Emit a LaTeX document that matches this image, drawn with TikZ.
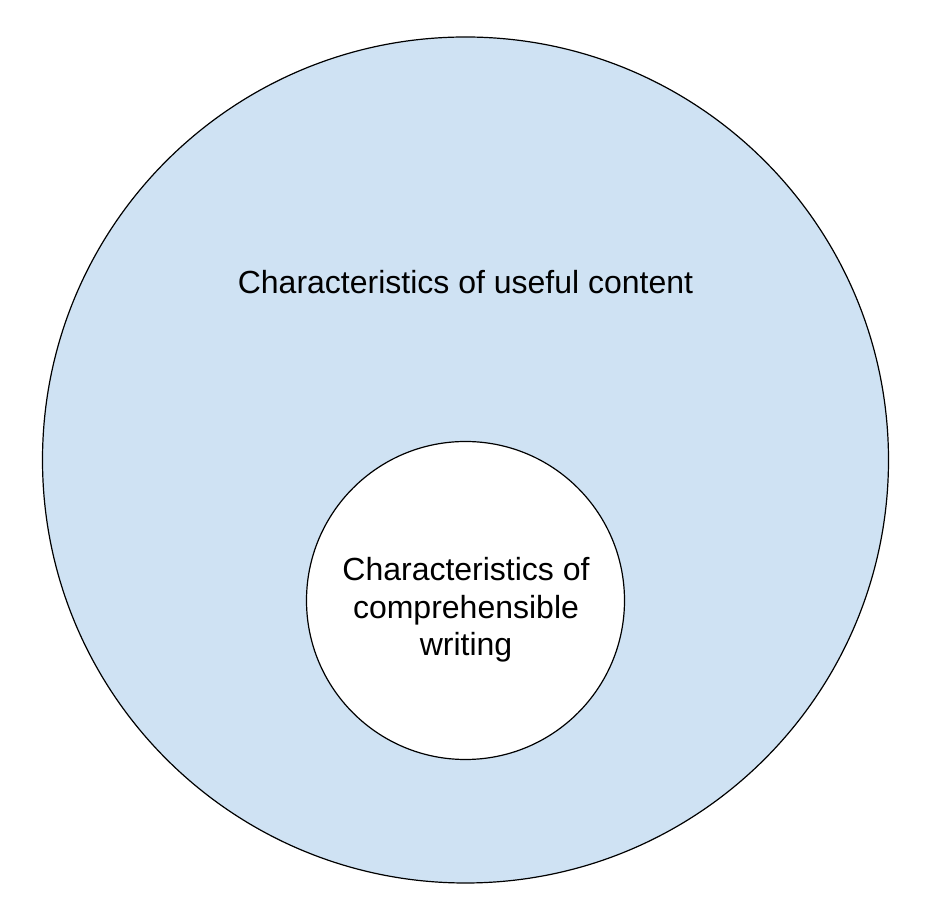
\documentclass[tikz,border=0pt]{standalone}
\usepackage{fontspec}
\setmainfont{Liberation Sans}
\definecolor{lightblue}{HTML}{CFE2F3}
\begin{document}
\begin{tikzpicture}[x=1pt,y=1pt,
  ring/.style={circle,draw=black,line width=1.2pt,inner sep=0pt},
  lbl/.style={font=\fontsize{32}{37.5}\selectfont,align=center,text=black}]
\useasboundingbox (0,0) rectangle (940,918);
\fill[white] (0,0) rectangle (940,918);
\node[ring,fill=lightblue,minimum size=846pt] (outer) at (465.5,458) {};
\node[ring,fill=white,minimum size=318pt] (inner) at (465.5,317.5) {};
\node[lbl] (outerlbl) at (465.5,636) {Characteristics of useful content};
\node[lbl] (innerlbl) at (466,308) {Characteristics of\\comprehensible\\writing};
\end{tikzpicture}
\end{document}
